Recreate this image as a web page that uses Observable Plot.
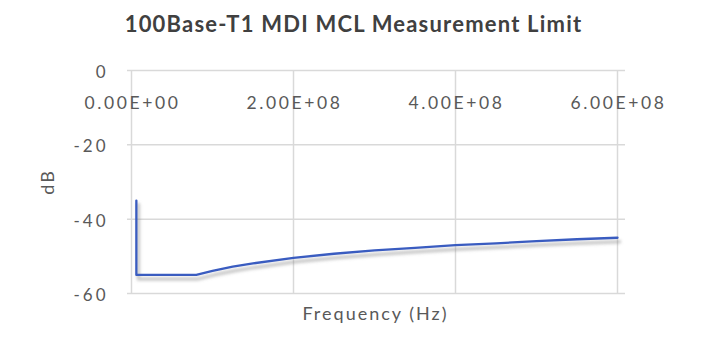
<!DOCTYPE html>
<html>
<head>
<meta charset="utf-8">
<script src="https://cdn.jsdelivr.net/npm/d3@7"></script>
<script src="https://cdn.jsdelivr.net/npm/@observablehq/plot@0.6"></script>
<style>
  html, body { margin: 0; padding: 0; background: #fff; }
  #wrap { width: 703px; height: 352px; overflow: hidden; font-family: Lato, "Open Sans", sans-serif; }
  #title { height: 50px; line-height: 47px; text-align: center; font-weight: bold; font-size: 22px; letter-spacing: 1.2px; color: #404040; padding-left: 4px; }
</style>
</head>
<body>
<div id="wrap">
  <div id="title">100Base-T1 MDI MCL Measurement Limit</div>
  <div id="chart"></div>
</div>
<script>
// Frequency (Hz) and limit (dB)
const freqHz = [6e6, 6e6, 80e6, 100e6, 125e6, 150e6, 200e6, 250e6, 300e6, 350e6, 400e6, 450e6, 500e6, 550e6, 600e6];
const limitDb = [-35, -55, -55, -53.9, -52.8, -51.9, -50.4, -49.3, -48.4, -47.7, -47.0, -46.5, -45.9, -45.4, -45.0];
const xTicks = [0, 2e8, 4e8, 6e8];
const xTickLabels = ["0.00E+00", "2.00E+08", "4.00E+08", "6.00E+08"];
const yTicks = [0, -20, -40, -60];

const data = freqHz.map((f, i) => ({f, v: limitDb[i]}));
const xLabelData = xTicks.map((t, i) => ({t, label: xTickLabels[i]}));

const chart = Plot.plot({
  width: 703,
  height: 302,
  marginLeft: 131,
  marginRight: 86,
  marginTop: 20,
  marginBottom: 59,
  style: {fontFamily: "Lato, 'Open Sans', sans-serif", background: "#fff"},
  x: {domain: [0, 6e8], axis: null},
  y: {domain: [-60, 0], axis: null},
  marks: [
    Plot.ruleX(xTicks, {stroke: "#d9d9d9", strokeWidth: 1.5, strokeOpacity: 1}),
    Plot.ruleY(yTicks, {stroke: "#d9d9d9", strokeWidth: 1.5, strokeOpacity: 1, insetLeft: -4, insetRight: -8}),
    Plot.axisY(yTicks, {anchor: "left", tickSize: 0, tickPadding: 23, fontSize: 17, dy: 2, color: "#595959", label: null, tickFormat: d => d === 0 ? "0" : "-" + Math.abs(d)}),
    Plot.text(xLabelData, {x: "t", y: () => 0, dy: 33, dx: 1, text: "label", fontSize: 17.5, fill: "#595959", ariaLabel: () => "xlbl"}),
    Plot.line(data, {x: "f", y: "v", stroke: "#888", strokeOpacity: 0.45, strokeWidth: 3.5, dx: 2, dy: 4, ariaLabel: () => "shadow"}),
    Plot.line(data, {x: "f", y: "v", stroke: "#3a5cc0", strokeWidth: 2.3}),
    Plot.text(["Frequency (Hz)"], {frameAnchor: "bottom", dy: 26, dx: 1, text: d => d, fontSize: 18, fill: "#595959", ariaLabel: () => "atitle"}),
    Plot.text(["dB"], {frameAnchor: "left", textAnchor: "middle", dx: -83, rotate: -90, text: d => d, fontSize: 18, fill: "#595959", ariaLabel: () => "atitle"})
  ]
});
document.getElementById("chart").appendChild(chart);

const svg = d3.select(chart);
svg.selectAll('[aria-label="xlbl"]').style("letter-spacing", "2.6px");
svg.selectAll('g[aria-label="y-axis tick label"] text').style("letter-spacing", "3px");
svg.selectAll('[aria-label="atitle"]').style("letter-spacing", "2px");

// soft blur for the Excel-style drop shadow
const defs = svg.insert("defs", ":first-child");
defs.append("filter").attr("id", "blur").attr("x", "-5%").attr("y", "-20%").attr("width", "110%").attr("height", "140%")
  .append("feGaussianBlur").attr("stdDeviation", 1.6);
svg.selectAll('[aria-label="shadow"]').attr("filter", "url(#blur)");
</script>
</body>
</html>
